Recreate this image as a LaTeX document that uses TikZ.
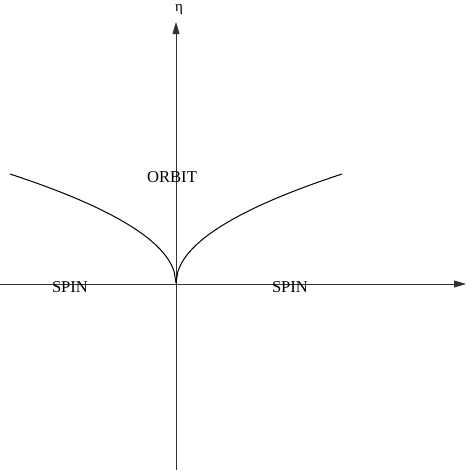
\documentclass[tikz,border=0pt]{standalone}
\usepackage{fontspec}
\setmainfont{Liberation Serif}
\usetikzlibrary{arrows.meta}
\tikzset{
  axis/.style={line width=0.8pt, draw=black!80, -{Triangle[length=12pt, width=7pt]}},
  branch/.style={line width=1pt, draw=black},
  region/.style={font=\fontsize{16.6}{20}\selectfont, inner sep=0pt},
}

\begin{document}
\begin{tikzpicture}[x=1pt, y=-1pt]
    \useasboundingbox (0,0) rectangle (474,474);
    \coordinate (xstart) at (0, 284);
    \coordinate (xend) at (466, 284);
    \coordinate (ystart) at (176, 470);
    \coordinate (yend) at (176, 22);
    \draw[axis] (xstart) -- (xend);
    \draw[axis] (ystart) -- (yend);
    \node[region, anchor=base, font=\fontsize{15}{18}\selectfont] (eta) at (179, 11.5) {η};
    % the two branches meeting at the cusp
    \draw[branch] plot[domain=0:166, samples=90] ({176+\x}, {283-109*sqrt(\x/166)});
    \draw[branch] plot[domain=0:166, samples=90] ({176-\x}, {283-109*sqrt(\x/166)});
    \node[region] (orbit) at (172, 177) {ORBIT};
    \node[region] (spinl) at (70, 287) {SPIN};
    \node[region] (spinr) at (290, 287) {SPIN};
\end{tikzpicture}
\end{document}
